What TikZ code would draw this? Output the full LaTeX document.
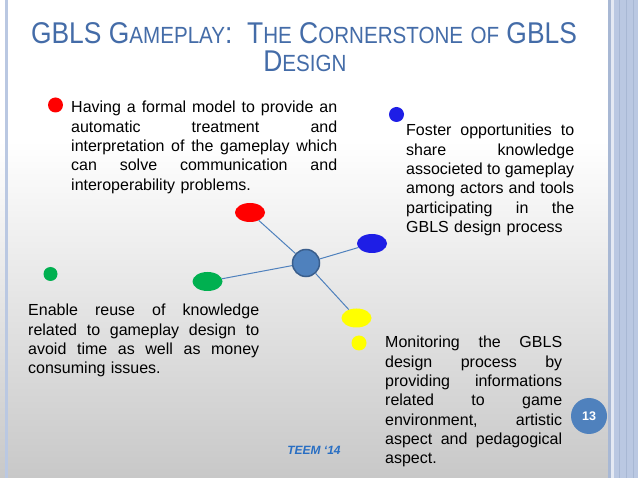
\documentclass[tikz,border=0pt]{standalone}
\usepackage{fontspec}
\setmainfont{Liberation Sans}
\usetikzlibrary{shapes.geometric}
\definecolor{titleblue}{RGB}{68,108,168}
\definecolor{steel}{RGB}{79,129,189}
\definecolor{hubborder}{RGB}{58,94,140}
\definecolor{bgbottom}{RGB}{200,200,200}
\definecolor{bandblue}{RGB}{186,200,226}
\definecolor{banddark}{RGB}{168,184,212}
\definecolor{bandlight}{RGB}{228,233,243}
\definecolor{teemblue}{RGB}{40,110,195}
\definecolor{dotblue}{RGB}{30,30,230}
\definecolor{dotgreen}{RGB}{0,176,80}
\definecolor{dotyellow}{RGB}{255,255,0}
\newcommand{\smc}[1]{{\fontsize{23.4}{23.4}\selectfont #1}}
\newlength{\jw}
\newcommand{\jline}[1]{\leavevmode\hbox to \jw{\spaceskip=4.45pt plus 40pt minus 1pt\relax #1}\\}
\begin{document}
\begin{tikzpicture}[x=1pt,y=-1pt,
  bodytext/.style={anchor=base west, inner sep=0pt, align=left, text=black,
    font=\fontsize{16}{19.3}\selectfont},
  titletext/.style={anchor=base, inner sep=0pt, text=titleblue,
    font=\fontsize{30}{30}\selectfont},
  dot/.style={circle, inner sep=0pt, minimum size=15pt},
  blob/.style={ellipse, inner sep=0pt, minimum width=30pt, minimum height=19pt},
  spoke/.style={draw=steel, line width=1pt}]
\useasboundingbox (0,0) rectangle (638,478);
% background
\fill[white] (0,0) rectangle (638,478);
\shade[top color=white, bottom color=bgbottom] (0,140) rectangle (638,478);
\fill[bandblue] (5,0) rectangle (8,478);
\fill[banddark] (608,0) rectangle (610.5,478);
\fill[bandlight] (610.5,0) rectangle (614,478);
\fill[bandblue] (614,0) rectangle (638,478);
\fill[banddark] (619,0) rectangle (620,478);
\fill[banddark] (626,0) rectangle (627,478);
\fill[banddark] (633,0) rectangle (634,478);
% title
\node[titletext] (t1) at (304,44) {\scalebox{0.88}[1]{GBLS G\smc{AMEPLAY}:\ \ T\smc{HE} C\smc{ORNERSTONE} \smc{OF} GBLS}};
\node[titletext] (t2) at (305,72) {\scalebox{0.88}[1]{D\smc{ESIGN}}};
% bullets
\node[dot, fill=red] (rdot) at (55.5,105) {};
\node[dot, fill=dotblue] (bdot) at (396.5,114.5) {};
\node[dot, fill=dotgreen, minimum size=14pt] (gdot) at (50.5,274) {};
\node[dot, fill=dotyellow] (ydot) at (359,343) {};
% texts
\node[bodytext, text width=266pt] (rtext) at (71,113) {\setlength{\jw}{266pt}%
\jline{Having a formal model to provide an}
\jline{automatic treatment and}
\jline{interpretation of the gameplay which}
\jline{can solve communication and}
interoperability problems.};
\node[bodytext, text width=168pt] (btext) at (406,136) {\setlength{\jw}{168pt}%
\jline{Foster opportunities to}
\jline{share knowledge}
\jline{associeted to gameplay}
\jline{among actors and tools}
\jline{participating in the}
GBLS design process};
\node[bodytext, text width=231pt] (gtext) at (28,316) {\setlength{\jw}{231pt}%
\jline{Enable reuse of knowledge}
\jline{related to gameplay design to}
\jline{avoid time as well as money}
consuming issues.};
\node[bodytext, text width=177pt] (ytext) at (385,348) {\setlength{\jw}{177pt}%
\jline{Monitoring the GBLS}
\jline{design process by}
\jline{providing informations}
\jline{related to game}
\jline{environment, artistic}
\jline{aspect and pedagogical}
aspect.};
% hub and spokes
\node[blob, fill=red] (rblob) at (250,212.5) {};
\node[blob, fill=dotblue] (bblob) at (372,243.5) {};
\node[blob, fill=dotgreen] (gblob) at (207.5,281.5) {};
\node[blob, fill=dotyellow] (yblob) at (356.5,318) {};
\node[circle, fill=steel, draw=hubborder, line width=1.5pt, minimum size=27pt, inner sep=0pt] (hub) at (306,263) {};
\draw[spoke] (hub) -- (rblob);
\draw[spoke] (hub) -- (bblob);
\draw[spoke] (hub) -- (gblob);
\draw[spoke] (hub) -- (yblob);
% footer
\node[inner sep=0pt, text=teemblue, font=\bfseries\itshape\fontsize{12}{12}\selectfont] (teem) at (314,450) {TEEM ‘14};
\node[circle, fill=steel, minimum size=36pt, inner sep=0pt, text=white, font=\bfseries\fontsize{12.5}{12.5}\selectfont] (num) at (589,416) {13};
\end{tikzpicture}
\end{document}
